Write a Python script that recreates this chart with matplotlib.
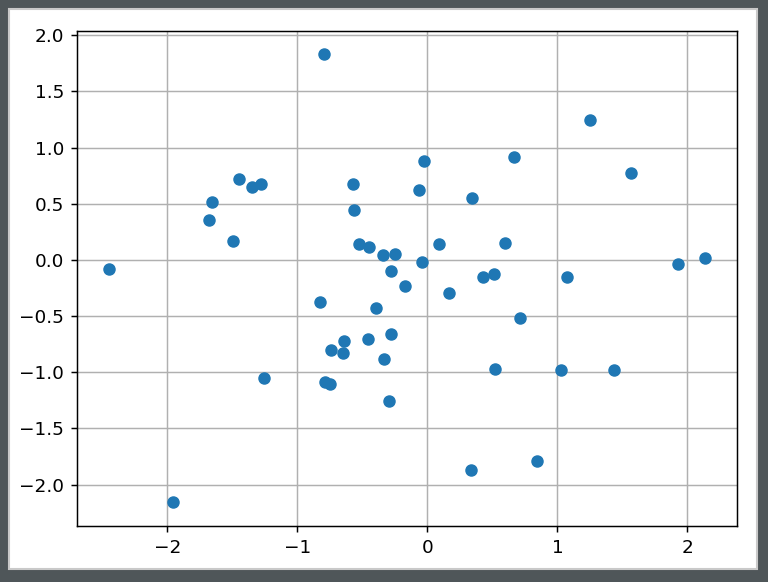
import numpy as np
import matplotlib
matplotlib.use("Agg")
import matplotlib.pyplot as plt
from matplotlib.patches import Rectangle

# point coordinates
x = [-2.452, -1.958, -1.683, -1.660, -1.498, -1.447, -1.348, -1.283, -1.255,
     -0.796, -0.827, -0.786, -0.752, -0.745, -0.642, -0.652, -0.573, -0.563,
     -0.529, -0.448, -0.458, -0.396, -0.345, -0.332, -0.283, -0.283, -0.293,
     -0.250, -0.171, -0.068, -0.025, -0.042, 0.091, 0.163, 0.345, 0.332,
     0.425, 0.514, 0.522, 0.594, 0.663, 0.714, 0.840, 1.025, 1.071, 1.250,
     1.432, 1.565, 1.927, 2.132]
y = [-0.083, -2.158, 0.351, 0.516, 0.166, 0.716, 0.645, 0.674, -1.053,
     1.832, -0.377, -1.086, -1.107, -0.804, -0.721, -0.825, 0.674, 0.443,
     0.146, 0.113, -0.700, -0.430, 0.042, -0.878, -0.103, -0.659, -1.252,
     0.051, -0.228, 0.621, 0.882, -0.020, 0.146, -0.294, 0.552, -1.866,
     -0.154, -0.127, -0.970, 0.155, 0.915, -0.513, -1.793, -0.982, -0.148,
     1.247, -0.982, 0.778, -0.032, 0.018]

W, H = 768, 582
k = 1.33  # reference is a default figure scaled up

plt.rcParams['font.size'] = 10 * k
plt.rcParams['axes.linewidth'] = 0.8 * k
plt.rcParams['xtick.major.size'] = 3.5 * k
plt.rcParams['ytick.major.size'] = 3.5 * k
plt.rcParams['xtick.major.width'] = 0.8 * k
plt.rcParams['ytick.major.width'] = 0.8 * k
plt.rcParams['xtick.major.pad'] = 3.5 * k
plt.rcParams['ytick.major.pad'] = 3.5 * k

fig = plt.figure(figsize=(W / 100, H / 100), dpi=100, facecolor='#4f5659')
# white page with a thin light edge inside the dark frame
fig.patches.append(Rectangle((9 / W, 13 / H), 748 / W, 560 / H,
                             transform=fig.transFigure, facecolor='white',
                             edgecolor='#c9c9c9', linewidth=1.5, zorder=-5))

ax = fig.add_axes([77 / W, 56 / H, 660 / W, 495 / H])
ax.scatter(x, y, s=36 * k * k, color='#1f77b4', zorder=2)
ax.set_xlim(-2.696, 2.381)
ax.set_ylim(-2.369, 2.038)
ax.grid(True, color='#b0b0b0', linewidth=0.8 * k)
ax.set_axisbelow(True)

fig.savefig('out.png', dpi=100, facecolor=fig.get_facecolor())
